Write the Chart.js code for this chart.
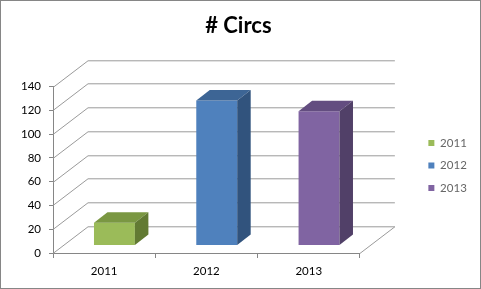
<!DOCTYPE html>
<html>
<head>
<meta charset="utf-8">
<script src="https://cdn.jsdelivr.net/npm/chart.js@4.4.1/dist/chart.umd.min.js"></script>
<style>
  html, body { margin: 0; padding: 0; background: #fff; }
</style>
</head>
<body>
<canvas id="chart" width="481" height="289"></canvas>
<script>
const years = ["2011", "2012", "2013"];
const circs = [19, 122, 113];
const frontColors = ["#9BBB59", "#4F81BD", "#8064A2"];
const topColors = ["#7A9742", "#3D6595", "#634D80"];
const sideColors = ["#627A33", "#31537D", "#514068"];

// fake 3d: how far the back wall and the bars sit behind the front plane
const WALL = { dx: 35, dy: -26.7 };
const BAR_SHIFT = { dx: 10.3, dy: -7.6 };
const BAR_DEPTH = { dx: 13.5, dy: -10.5 };

const AXIS_GREY = "#868686";
const WALL_GREY = "#9A9A9A";

const box3d = {
  id: "box3d",
  beforeDatasetsDraw(chart) {
    const { ctx, chartArea, scales } = chart;
    const y = scales.y;
    ctx.save();
    ctx.strokeStyle = WALL_GREY;
    ctx.lineWidth = 1;
    y.ticks.forEach((tick) => {
      const py = Math.round(y.getPixelForValue(tick.value)) + 0.5;
      ctx.beginPath();
      ctx.moveTo(chartArea.left, py);
      ctx.lineTo(chartArea.left + WALL.dx, py + WALL.dy);
      ctx.lineTo(chartArea.right + WALL.dx, py + WALL.dy);
      ctx.stroke();
    });
    // right edge of the floor
    const base = Math.round(y.getPixelForValue(0)) + 0.5;
    ctx.beginPath();
    ctx.moveTo(chartArea.right, base);
    ctx.lineTo(chartArea.right + WALL.dx, base + WALL.dy);
    ctx.stroke();
    ctx.restore();

    ctx.save();
    ctx.translate(BAR_SHIFT.dx, BAR_SHIFT.dy);
  },
  afterDatasetsDraw(chart) {
    const { ctx } = chart;
    const meta = chart.getDatasetMeta(0);
    meta.data.forEach((bar, i) => {
      const { x, y, base, width } = bar.getProps(["x", "y", "base", "width"], true);
      const x0 = x - width / 2;
      const x1 = x + width / 2;
      const { dx, dy } = BAR_DEPTH;

      ctx.fillStyle = topColors[i];
      ctx.beginPath();
      ctx.moveTo(x0, y);
      ctx.lineTo(x1, y);
      ctx.lineTo(x1 + dx, y + dy);
      ctx.lineTo(x0 + dx, y + dy);
      ctx.closePath();
      ctx.fill();

      ctx.fillStyle = sideColors[i];
      ctx.beginPath();
      ctx.moveTo(x1, y);
      ctx.lineTo(x1 + dx, y + dy);
      ctx.lineTo(x1 + dx, base + dy);
      ctx.lineTo(x1, base);
      ctx.closePath();
      ctx.fill();
    });
    ctx.restore();
  },
  afterDraw(chart) {
    const { ctx } = chart;
    ctx.save();
    ctx.strokeStyle = AXIS_GREY;
    ctx.lineWidth = 1;
    ctx.strokeRect(0.5, 0.5, chart.width - 1, chart.height - 1);
    ctx.restore();
  },
};

const labelFont = { family: "Lato, 'Open Sans', sans-serif", size: 11.5 };

new Chart(document.getElementById("chart"), {
  type: "bar",
  data: {
    labels: years,
    datasets: [
      {
        label: "# Circs",
        data: circs,
        backgroundColor: frontColors,
        borderWidth: 0,
        barPercentage: 0.8,
        categoryPercentage: 0.5,
        clip: false,
      },
    ],
  },
  options: {
    responsive: false,
    animation: false,
    devicePixelRatio: 1,
    layout: { padding: { left: 0, right: 4.2, top: 0, bottom: 0 } },
    plugins: {
      title: {
        display: true,
        text: "# Circs",
        color: "#000",
        font: { family: "Lato, 'Open Sans', sans-serif", size: 22, weight: "bold" },
        padding: { top: 13, bottom: 47.3 },
      },
      legend: {
        position: "right",
        fullSize: true,
        title: { display: true, text: "", padding: { top: 0, bottom: 27.6 } },
        labels: {
          boxWidth: 6,
          boxHeight: 6,
          padding: 11,
          color: "#000",
          font: labelFont,
          generateLabels: (chart) =>
            chart.data.labels.map((text, i) => ({
              text,
              fillStyle: frontColors[i],
              strokeStyle: frontColors[i],
              lineWidth: 0,
              hidden: false,
              index: i,
            })),
        },
      },
      tooltip: { enabled: false },
    },
    scales: {
      x: {
        grid: { display: true, drawOnChartArea: false, drawTicks: true, tickLength: 5, color: AXIS_GREY, offset: true },
        border: { display: true, color: AXIS_GREY },
        ticks: { color: "#000", font: labelFont, padding: 6 },
        afterFit: (scale) => { scale.height = 36; },
      },
      y: {
        min: 0,
        max: 140,
        ticks: { stepSize: 20, color: "#000", font: labelFont, padding: 8 },
        grid: { display: true, drawOnChartArea: false, drawTicks: true, tickLength: 4, color: AXIS_GREY },
        border: { display: true, color: AXIS_GREY },
        afterFit: (scale) => { scale.width = 53; },
      },
      // empty axis that keeps room for the 3d back wall before the legend
      gap: {
        type: "linear",
        position: "right",
        display: true,
        grid: { display: false },
        ticks: { display: false },
        border: { display: false },
        afterFit: (scale) => { scale.width = 57.5; },
      },
    },
  },
  plugins: [box3d],
});
</script>
</body>
</html>
